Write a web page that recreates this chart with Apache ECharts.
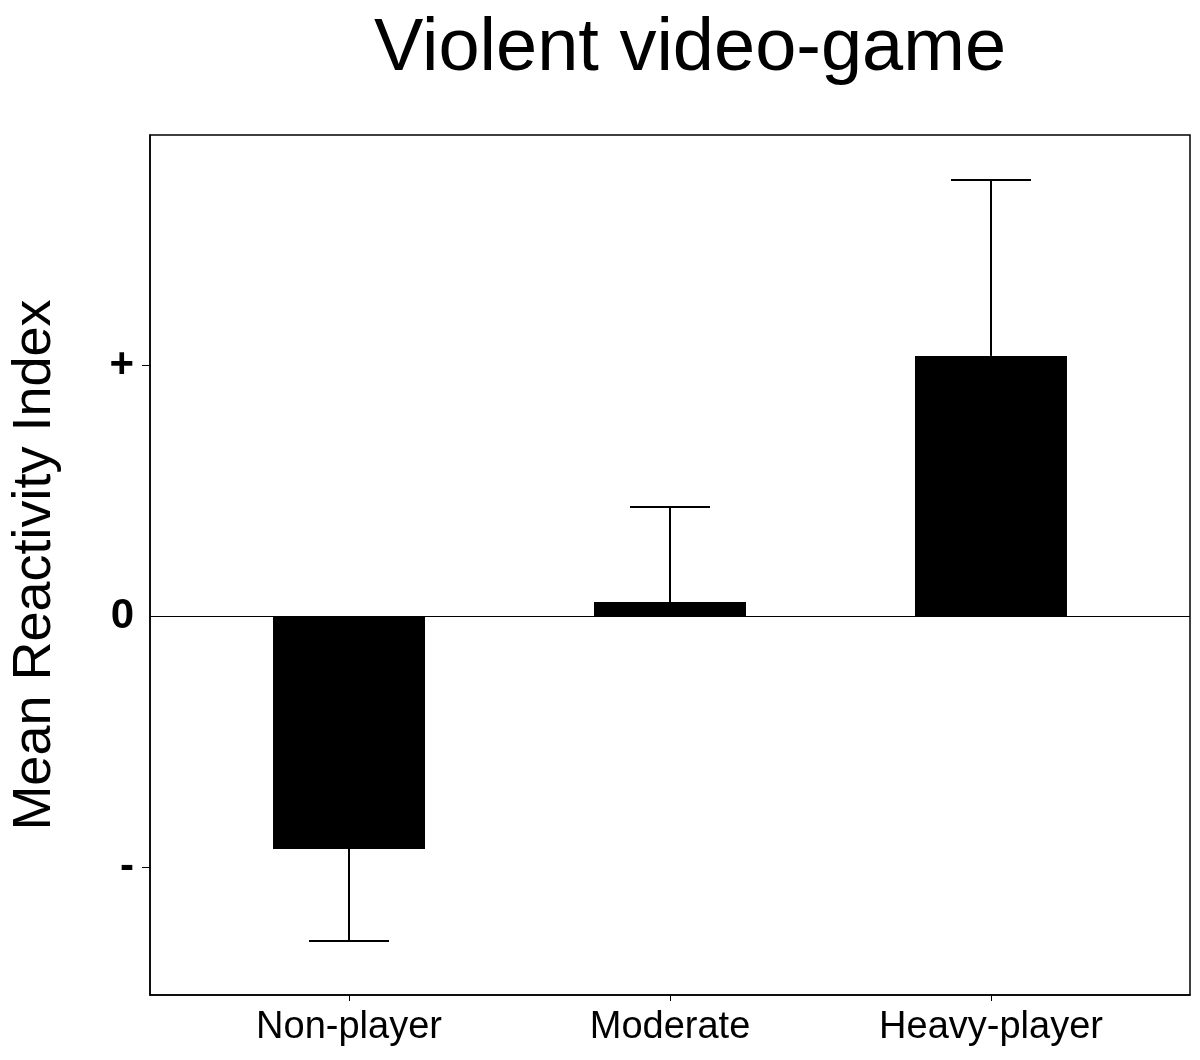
<!doctype html>
<html>
<head>
<meta charset="UTF-8">
<script src="https://cdn.jsdelivr.net/npm/echarts@6/dist/echarts.min.js"></script>
<style>html,body{margin:0;padding:0;background:#fff}</style>
</head>
<body>
<div id="chart" style="width:1200px;height:1060px;"></div>
<script>
var categories = ['Non-player', 'Moderate', 'Heavy-player'];
var means = [-0.928, 0.056, 1.036];
var errEnds = [-1.295, 0.434, 1.737];
var yTickValues = [-1, 0, 1];
var yTickLabels = {'-1': '-', '0': '0', '1': '+'};

var chart = echarts.init(document.getElementById('chart'));
var font = 'Liberation Sans, Arial, sans-serif';

chart.setOption({
    animation: false,
    title: {
        text: 'Violent video-game',
        left: 685, top: 8, textAlign: 'center',
        textStyle: {fontFamily: font, fontSize: 74, fontWeight: 'normal', color: '#000'}
    },
    grid: {left: 148, right: 10, top: 135, bottom: 65, show: true, borderColor: '#000', borderWidth: 1.5},
    xAxis: {
        type: 'value', min: -0.62, max: 2.62,
        splitLine: {show: false},
        axisLine: {show: true, onZero: false, lineStyle: {color: '#000', width: 1.5}},
        axisTick: {show: true, customValues: [0, 1, 2], length: 6, lineStyle: {color: '#000'}},
        axisLabel: {
            customValues: [0, 1, 2], margin: 14,
            formatter: function (v) { return categories[Math.round(v)]; },
            fontFamily: font, fontSize: 38, color: '#000'
        }
    },
    yAxis: {
        type: 'value', min: -1.51, max: 1.916,
        name: 'Mean Reactivity Index', nameLocation: 'middle', nameGap: 88,
        nameTextStyle: {fontFamily: font, fontSize: 54, color: '#000'},
        splitLine: {show: false},
        axisLine: {show: true, onZero: false, lineStyle: {color: '#000', width: 1.5}},
        axisTick: {show: true, customValues: [-1, 1], length: 8, lineStyle: {color: '#000'}},
        axisLabel: {
            customValues: yTickValues, margin: 16,
            formatter: function (v) { return yTickLabels[String(Math.round(v))]; },
            rich: {},
            fontFamily: font, fontSize: 42, fontWeight: 'bold', color: '#000'
        }
    },
    series: [{
        type: 'bar',
        barWidth: 152,
        itemStyle: {color: '#000'},
        data: means.map(function (m, i) { return [i, m]; }),
        markLine: {
            silent: true, symbol: 'none', label: {show: false},
            lineStyle: {color: '#000', width: 1.2, type: 'solid'},
            data: [{yAxis: 0}]
        }
    }, {
        type: 'custom',
        data: means.map(function (m, i) { return [i, m, errEnds[i]]; }),
        renderItem: function (params, api) {
            var base = api.coord([api.value(0), api.value(1)]);
            var end = api.coord([api.value(0), api.value(2)]);
            var half = 40;
            var st = {stroke: '#000', lineWidth: 2};
            return {type: 'group', children: [
                {type: 'line', shape: {x1: base[0], y1: base[1], x2: end[0], y2: end[1]}, style: st},
                {type: 'line', shape: {x1: end[0] - half, y1: end[1], x2: end[0] + half, y2: end[1]}, style: st}
            ]};
        }
    }]
});
</script>
</body>
</html>
